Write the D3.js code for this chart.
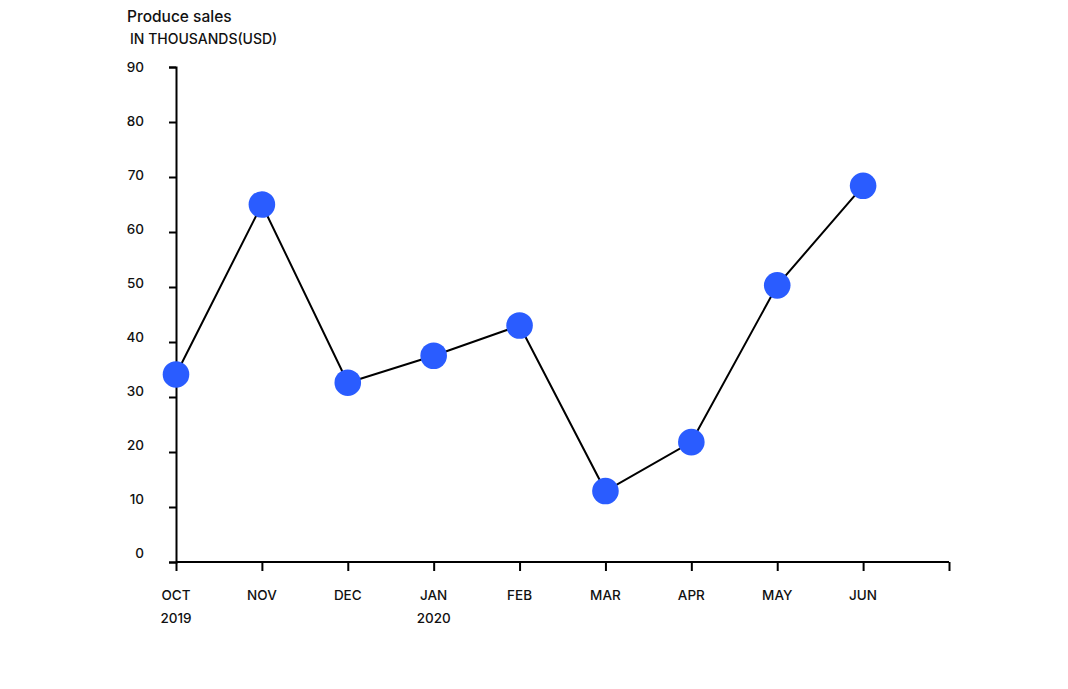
<!DOCTYPE html>
<html>
<head>
<meta charset="utf-8">
<script src="https://cdn.jsdelivr.net/npm/d3@7"></script>
<style>
  body { margin: 0; background: #fff; }
  text { font-family: Inter, "Open Sans", sans-serif; fill: #111; }
</style>
</head>
<body>
<div id="chart"></div>
<script>
// data
const months = ["OCT", "NOV", "DEC", "JAN", "FEB", "MAR", "APR", "MAY", "JUN", ""];
const years = ["2019", "", "", "2020", "", "", "", "", "", ""];
const sales = [34.1, 65.0, 32.6, 37.5, 43.0, 12.9, 21.8, 50.3, 68.4];
const yTicks = [0, 10, 20, 30, 40, 50, 60, 70, 80, 90];

const width = 1068, height = 689;
const plotLeft = 176, plotRight = 949, plotTop = 67, plotBottom = 562;

const svg = d3.select("#chart")
  .append("svg")
  .attr("width", width)
  .attr("height", height);

// scales
const x = d3.scalePoint()
  .domain(d3.range(months.length))
  .range([plotLeft, plotRight]);

const y = d3.scaleLinear()
  .domain([0, 90])
  .range([plotBottom, plotTop]);

// tick labels sit a bit tighter than the ticks themselves
const yLabel = y.copy().range([553, 67]);

// titles
svg.append("text")
  .attr("x", 127).attr("y", 22)
  .attr("font-size", 15.5)
  .attr("font-weight", 500)
  .text("Produce sales");

svg.append("text")
  .attr("x", 130).attr("y", 44)
  .attr("font-size", 14)
  .attr("font-weight", 500)
  .text("IN THOUSANDS(USD)");

// y axis
const yAxis = svg.append("g")
  .attr("transform", `translate(${plotLeft},0)`)
  .call(d3.axisLeft(y).tickValues(yTicks).tickSize(7).tickFormat(d => ""));
yAxis.select(".domain").attr("stroke", "#000").attr("stroke-width", 2);
yAxis.selectAll(".tick line").attr("stroke", "#000").attr("stroke-width", 2);

svg.append("g")
  .selectAll("text")
  .data(yTicks)
  .join("text")
  .attr("x", 144)
  .attr("y", d => yLabel(d))
  .attr("dy", "0.35em")
  .attr("text-anchor", "end")
  .attr("font-size", 13.5)
  .attr("font-weight", 500)
  .text(d => d);

// x axis
const xAxis = svg.append("g")
  .attr("transform", `translate(0,${plotBottom})`)
  .call(d3.axisBottom(x).tickSize(9).tickFormat(d => ""));
xAxis.select(".domain").attr("stroke", "#000").attr("stroke-width", 2).attr("d", `M${plotLeft},0H${plotRight}`);
xAxis.selectAll(".tick line").attr("stroke", "#000").attr("stroke-width", 2);

svg.append("g")
  .selectAll("text")
  .data(months)
  .join("text")
  .attr("x", (d, i) => x(i))
  .attr("y", 600)
  .attr("text-anchor", "middle")
  .attr("font-size", 13.5)
  .attr("font-weight", 500)
  .text(d => d);

svg.append("g")
  .selectAll("text")
  .data(years)
  .join("text")
  .attr("x", (d, i) => x(i))
  .attr("y", 623)
  .attr("text-anchor", "middle")
  .attr("font-size", 13.5)
  .attr("font-weight", 500)
  .text(d => d);

// line
const line = d3.line()
  .x((d, i) => x(i))
  .y(d => y(d));

svg.append("path")
  .datum(sales)
  .attr("d", line)
  .attr("fill", "none")
  .attr("stroke", "#000")
  .attr("stroke-width", 2);

// dots
svg.append("g")
  .selectAll("circle")
  .data(sales)
  .join("circle")
  .attr("cx", (d, i) => x(i))
  .attr("cy", d => y(d))
  .attr("r", 13.3)
  .attr("fill", "#2a5cff");
</script>
</body>
</html>
